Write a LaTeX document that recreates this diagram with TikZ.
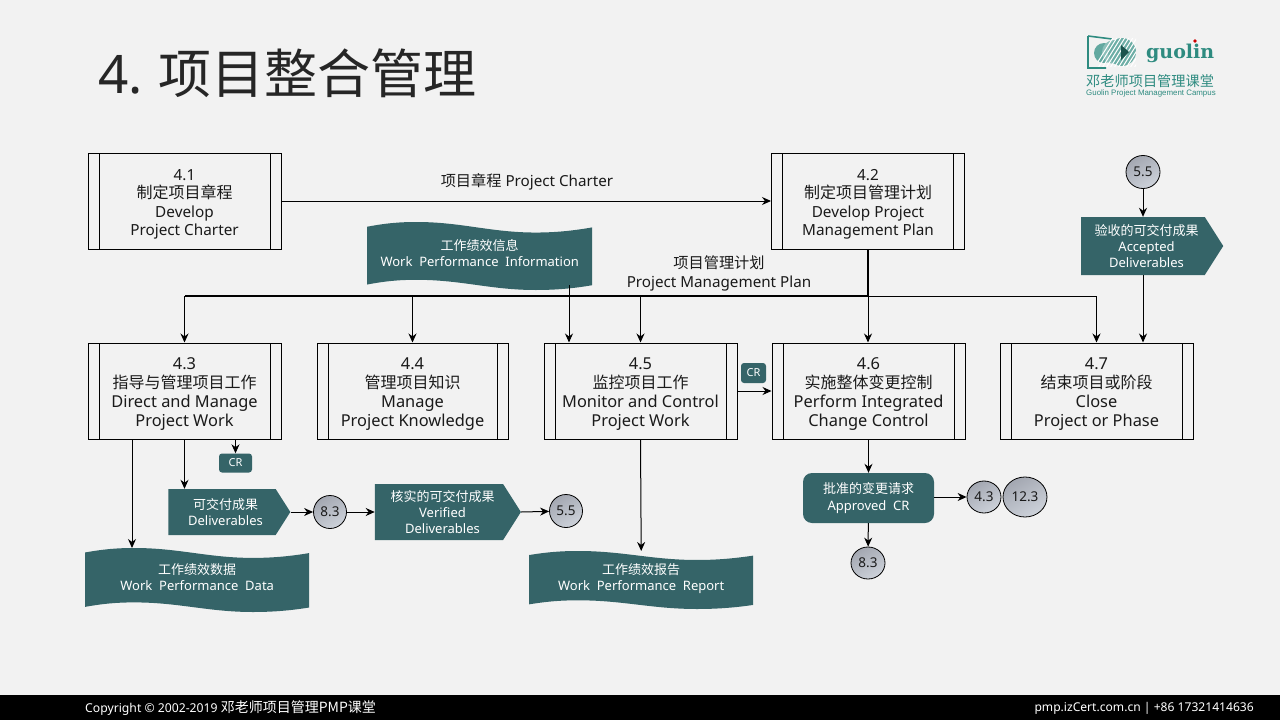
\documentclass[tikz,border=0pt]{standalone}
\usepackage{fontspec}
\setmainfont{Noto Sans}
\newfontfamily\cjk{Noto Sans CJK SC}
\newfontfamily\logoserif{DejaVu Serif}
\newfontfamily\logosans{Liberation Sans}
\usetikzlibrary{arrows.meta,shapes.symbols,shapes.geometric}
\definecolor{pagebg}{HTML}{F2F2F2}
\definecolor{tealfill}{HTML}{356468}
\definecolor{inktext}{HTML}{1A1A1A}
\definecolor{logoteal}{HTML}{2E8B80}
\definecolor{circdark}{HTML}{A3A7B1}
\definecolor{circlight}{HTML}{CDD2DA}
\newcommand{\fsize}[2]{\fontsize{#1}{#2}\selectfont}
\newcommand{\cn}[1]{{\cjk\fontsize{16}{19}\selectfont #1}}
\newcommand{\pad}{\hspace*{7pt}}
\newcommand{\lift}{\rule{0pt}{18pt}}
\tikzset{
  >={Stealth[length=9pt,width=8pt]},
  flow/.style={->,line width=1pt,black},
  procbox/.style={draw=black,line width=1pt,minimum width=193pt,minimum height=96pt,inner sep=0pt,
    align=center,text=inktext,font=\fsize{16.4}{19},
    path picture={
      \draw[line width=1pt] ([xshift=11pt]path picture bounding box.north west) -- ([xshift=11pt]path picture bounding box.south west);
      \draw[line width=1pt] ([xshift=-11pt]path picture bounding box.north east) -- ([xshift=-11pt]path picture bounding box.south east);
    }},
  platebox/.style={signal,signal to=east,signal from=nowhere,signal pointer angle=115,fill=tealfill,
    inner sep=0pt,align=center,text=white,font=\fsize{13}{16}},
  tagbox/.style={fill=tealfill,rounded corners=3pt,inner sep=0pt,text=white,font=\fsize{11}{12}},
  refball/.style={ellipse,draw=black,line width=.8pt,inner sep=0pt,left color=circdark,right color=circlight,
    shading angle=30,text=inktext,font=\fsize{13.5}{16}},
  bannertext/.style={inner sep=0pt,align=center,text=white,font=\fsize{13}{16.5},
    execute at end node={\rule[-6.5pt]{0pt}{0pt}}},
  plainlabel/.style={inner sep=0pt,align=center,text=inktext,font=\fsize{15.2}{19}},
}
% wave banner: name, left, top, width, height, text
\newcommand{\banner}[6]{
  \fill[tealfill,shift={(#2,#3)},xscale=#4,yscale=#5]
    (0,.07) .. controls (.08,.02) and (.14,0) .. (.22,0)
    .. controls (.42,0) and (.55,.155) .. (.75,.155)
    .. controls (.85,.155) and (.93,.12) .. (1,.08)
    -- (1,.93) .. controls (.93,.97) and (.85,1) .. (.75,1)
    .. controls (.55,1) and (.42,.85) .. (.22,.85)
    .. controls (.14,.85) and (.08,.87) .. (0,.92) -- cycle;
  \node[bannertext,minimum width=#4 pt,minimum height=#5 pt,anchor=north west] (#1) at (#2,#3) {#6};
}
\begin{document}
\begin{tikzpicture}[x=1pt,y=-1pt]
\useasboundingbox (0,0) rectangle (1280,720);
\fill[pagebg] (0,0) rectangle (1280,720);
\fill[black] (0,695) rectangle (1280,720);
% title and footer
\node[anchor=west,inner sep=0pt,text=black!85,font=\fsize{53}{60}] (title) at (98,73) {4.\hspace{-2.5pt} {\cjk 项目整合管理}};
\node[anchor=west,inner sep=0pt,text=white,font=\fsize{12.2}{15}] (copyleft) at (85,708.5) {Copyright © 2002-2019 {\cjk\fsize{14}{15}邓老师项目管理PMP课堂}};
\node[anchor=east,inner sep=0pt,text=white,font=\fsize{12.1}{15}] (copyright) at (1254,708.5) {pmp.izCert.com.cn | +86 17321414636};
% logo
\draw[logoteal,line width=1.6pt] (1088,36) -- (1112,39) (1088,36) -- (1088,68) -- (1106,68);
\fill[logoteal!75] (1104,53) circle (10);
\fill[logoteal!55] (1114,52) circle (12);
\fill[logoteal!70] (1122,52) circle (14);
\begin{scope}
\clip (1098,38) rectangle (1136,66);
\foreach \k in {0,4,...,44}
  \draw[white,line width=1pt] (1094+\k,68) -- (1114+\k,36);
\end{scope}
\fill[logoteal!60!black] (1121,45) -- (1129,52) -- (1121,60) -- cycle;
\node[inner sep=0pt,anchor=west,text=logoteal,font=\logoserif\bfseries\fsize{19}{20}] (logoword) at (1146,53) {guolin};
\fill[red!80!black] (1195,41) circle (1.8);
\node[inner sep=0pt,anchor=west,text=logoteal,font=\cjk\fsize{14.2}{16}] (logocn) at (1086,81) {邓老师项目管理课堂};
\node[inner sep=0pt,anchor=west,text=logoteal,font=\logosans\fsize{7.9}{9}] (logoen) at (1086,93.5) {Guolin Project Management Campus};
% process boxes
\node[procbox,font=\fsize{15.3}{18.5}] (p41) at (184.5,201) {\lift 4.1\\\cn{制定项目章程}\\Develop\\Project Charter};
\node[procbox,font=\fsize{15.3}{18.5}] (p42) at (868,201) {\lift 4.2\\\cn{制定项目管理计划}\\Develop Project\\Management Plan};
\node[procbox] (p43) at (184.5,391) {\lift 4.3\\\cn{指导与管理项目工作}\\Direct and Manage\\Project Work};
\node[procbox,minimum width=191pt] (p44) at (412.5,391) {\lift 4.4\\\cn{管理项目知识}\\Manage\\Project Knowledge};
\node[procbox] (p45) at (640.5,391) {\lift 4.5\\\cn{监控项目工作}\\Monitor and Control\\Project Work};
\node[procbox] (p46) at (868.5,391) {\lift 4.6\\\cn{实施整体变更控制}\\Perform Integrated\\Change Control};
\node[procbox] (p47) at (1096.5,391) {\lift 4.7\\\cn{结束项目或阶段}\\Close\\Project or Phase};
% outputs
\banner{wpinfo}{367}{222}{225}{68}{{\cjk 工作绩效信息}\\Work\ \ Performance\ \ Information}
\banner{wpdata}{85}{548}{224}{64}{{\cjk 工作绩效数据}\\Work\ \ Performance\ \ Data}
\banner{wpreport}{529}{551}{224}{58}{{\cjk 工作绩效报告}\\Work\ \ Performance\ \ Report}
\node[platebox,minimum width=122pt,minimum height=46pt] (dlv) at (222,512) {\pad{\cjk 可交付成果}\\\pad Deliverables};
\node[platebox,minimum width=146pt,minimum height=56pt] (vrf) at (439,512) {\pad{\cjk 核实的可交付成果}\\\pad Verified\\\pad Deliverables};
\node[platebox,minimum width=142pt,minimum height=58pt] (acc) at (1143,246) {\pad{\cjk 验收的可交付成果}\\\pad Accepted\\\pad Deliverables};
\node[fill=tealfill,rounded corners=9pt,minimum width=131pt,minimum height=50pt,inner sep=0pt,align=center,text=white,font=\fsize{13}{16.5}] (apr) at (868.5,498) {{\cjk 批准的变更请求}\\Approved\ \ CR};
\node[tagbox,minimum width=33pt,minimum height=19pt] (cr43) at (235.5,463) {CR};
\node[tagbox,minimum width=25pt,minimum height=20pt] (cr45) at (753.5,373) {CR};
% references
\node[refball,minimum width=33pt,minimum height=33pt] (b83a) at (330,512) {8.3};
\node[refball,minimum width=33pt,minimum height=33pt] (b55a) at (566,511) {5.5};
\node[refball,minimum width=34pt,minimum height=33pt] (b55b) at (1143,172) {5.5};
\node[refball,minimum width=34pt,minimum height=32pt] (b43) at (984,497) {4.3};
\node[refball,minimum width=44pt,minimum height=40pt] (b123) at (1025,497) {12.3};
\node[refball,minimum width=34pt,minimum height=32pt] (b83b) at (868,563) {8.3};
% free labels
\node[plainlabel] (lblcharter) at (527,182) {{\cjk 项目章程} Project Charter};
\node[plainlabel] (lblplan) at (719,273.5) {{\cjk 项目管理计划}\\Project Management Plan};
% connectors
\coordinate (bus) at (868,296);
\coordinate (wpinfoout) at (569,285);
\draw[flow] (p41) -- (p42);
\draw[line width=2pt] (p42.south) -- (bus);
\draw[line width=1.2pt] (bus) -- (p43.north |- bus);
\draw[flow] (bus) -| (p43.north);
\draw[flow] (bus) -| (p44.north);
\draw[flow] (bus) -| (p45.north);
\draw[flow] (bus) -- (bus |- p46.north);
\draw[flow] (bus) -| (p47.north);
\draw[flow] (wpinfoout) -- (wpinfoout |- p45.north);
\draw[flow] (p45) -- (p46);
\draw[flow] ([xshift=-52.5pt]p43.south) -- ([xshift=-52.5pt]p43.south |- wpdata.north);
\draw[flow] (p43.south) -- (p43.south |- dlv.north);
\draw[flow] (p43.south -| cr43.north) -- (cr43.north);
\draw[flow] (dlv.east) -- (b83a);
\draw[flow] (b83a) -- (vrf.west);
\draw[flow] (vrf.east) -- (b55a);
\draw[flow] (p45.south) -- (wpreport.north);
\draw[flow] (p46) -- (apr);
\draw[flow] (apr.east |- b43) -- (b43);
\draw[flow] (apr) -- (b83b);
\draw[flow] (b55b) -- (b55b |- acc.north);
\draw[flow] (b55b |- acc.south) -- (b55b |- p47.north);
\end{tikzpicture}
\end{document}
